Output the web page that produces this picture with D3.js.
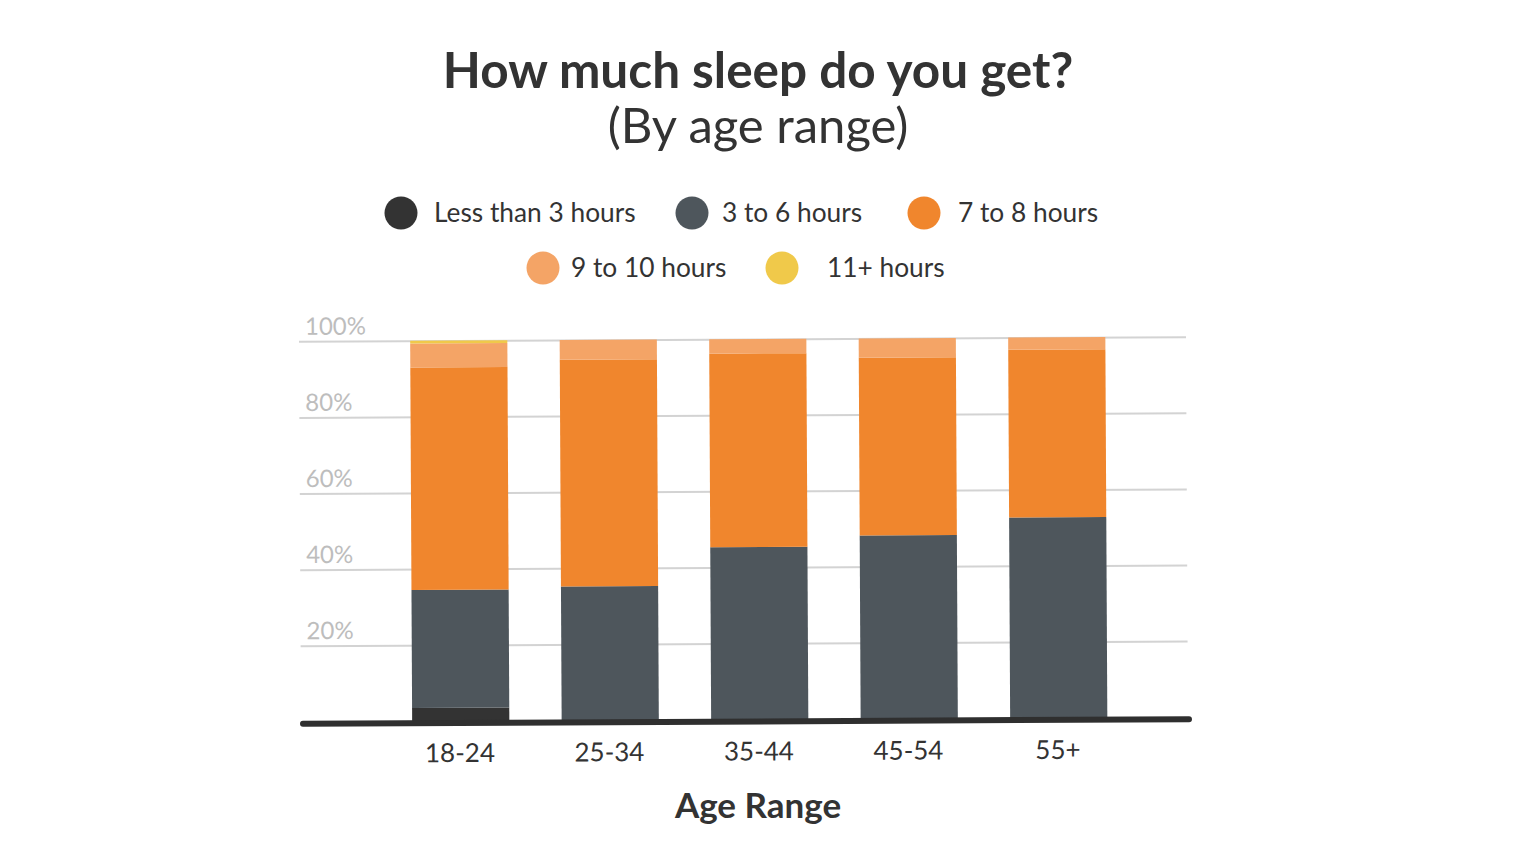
<!DOCTYPE html>
<html>
<head>
<meta charset="utf-8">
<script src="https://cdn.jsdelivr.net/npm/d3@7"></script>
<style>
  html, body { margin: 0; padding: 0; background: #fff; }
  svg { display: block; font-family: Lato, "Open Sans", sans-serif; }
</style>
</head>
<body>
<div id="chart"></div>
<script>
/* Age ranges along the x axis */
const ageRanges = ["18-24", "25-34", "35-44", "45-54", "55+"];

/* Sleep categories, bottom of the stack first */
const sleepCats = ["Less than 3 hours", "3 to 6 hours", "7 to 8 hours", "9 to 10 hours", "11+ hours"];
const catColors = ["#333333", "#4e565c", "#f0862d", "#f4a466", "#f0c94a"];

/* Share of respondents (%) per category, one value per age range */
const lessThan3 = [3.5, 0, 0, 0, 0];
const from3to6 = [31.0, 35.2, 45.3, 48.2, 52.7];
const from7to8 = [58.5, 59.6, 50.9, 46.7, 44.1];
const from9to10 = [6.3, 5.2, 3.8, 5.1, 3.2];
const elevenPlus = [0.7, 0, 0, 0, 0];

const yTicks = [20, 40, 60, 80, 100];

const width = 1536, height = 864;

const svg = d3.select("#chart").append("svg")
  .attr("width", width)
  .attr("height", height);

// ---- Title ----
addText(svg, 758, 88, "How much sleep do you get?", 49.5, 700, "#333");
addText(svg, 758, 143, "(By age range)", 49, 400, "#333");

// ---- Legend ----
const legendItems = [
  { i: 0, cx: 401, cy: 213, tx: 434 },
  { i: 1, cx: 692, cy: 213, tx: 722 },
  { i: 2, cx: 924, cy: 213, tx: 958 },
  { i: 3, cx: 543, cy: 268, tx: 571 },
  { i: 4, cx: 782, cy: 268, tx: 827 }
];
const legend = svg.append("g").attr("class", "legend");
legend.selectAll("circle")
  .data(legendItems)
  .enter()
  .append("circle")
  .attr("cx", d => d.cx)
  .attr("cy", d => d.cy)
  .attr("r", 16.5)
  .style("fill", d => catColors[d.i]);
legendItems.forEach(d => {
  addText(legend, d.tx, d.cy + 9, sleepCats[d.i], 26.3, 400, "#333", "start");
});

// ---- Plot (the picture is tilted very slightly) ----
const plot = svg.append("g")
  .attr("transform", "rotate(-0.3, 745, 530)");

const x = d3.scaleBand()
  .domain(ageRanges)
  .range([385, 1132.5])
  .paddingInner(0.35)
  .paddingOuter(0.175);

const y = d3.scaleLinear()
  .domain([0, 100])
  .range([719.5, 339]);

// Gridlines and percent labels
const yAxis = d3.axisRight(y)
  .tickValues(yTicks)
  .tickSize(887)
  .tickFormat(d => d + "%");

const gy = plot.append("g")
  .attr("transform", "translate(300,0)")
  .call(yAxis);
gy.select(".domain").remove();
gy.selectAll(".tick line")
  .attr("stroke", "#d3d3d3")
  .attr("stroke-width", 2);
gy.selectAll(".tick text")
  .attr("x", 6)
  .attr("y", -7)
  .attr("dy", null)
  .attr("text-anchor", "start")
  .style("font-family", "Lato")
  .style("font-size", "24px")
  .style("fill", "#bdbdbd");

// Stacked bars
const rows = ageRanges.map((a, i) => ({
  age: a,
  [sleepCats[0]]: lessThan3[i],
  [sleepCats[1]]: from3to6[i],
  [sleepCats[2]]: from7to8[i],
  [sleepCats[3]]: from9to10[i],
  [sleepCats[4]]: elevenPlus[i]
}));
const series = d3.stack().keys(sleepCats)(rows);

plot.append("g")
  .attr("class", "bars")
  .selectAll("g")
  .data(series)
  .enter()
  .append("g")
  .style("fill", (d, i) => catColors[i])
  .selectAll("rect")
  .data(d => d)
  .enter()
  .append("rect")
  .attr("x", d => x(d.data.age))
  .attr("width", x.bandwidth())
  .attr("y", d => y(d[1]))
  .attr("height", d => y(d[0]) - y(d[1]));

// Baseline
plot.append("line")
  .attr("x1", 302)
  .attr("x2", 1188)
  .attr("y1", y(0) + 2)
  .attr("y2", y(0) + 2)
  .attr("stroke", "#2f2f2f")
  .attr("stroke-width", 6)
  .attr("stroke-linecap", "round");

// Category labels
const xAxis = d3.axisBottom(x).tickSize(0);
const gx = plot.append("g")
  .attr("transform", "translate(-1," + y(0) + ")")
  .call(xAxis);
gx.select(".domain").remove();
gx.selectAll(".tick text")
  .attr("y", 41)
  .attr("dy", null)
  .style("font-family", "Lato")
  .style("font-size", "26px")
  .style("fill", "#333");

// Axis title
addText(svg, 758, 818, "Age Range", 35, 700, "#333");

/*
 * Put a text at (tx, ty).
 */
function addText(parent, tx, ty, str, size, weight, color, anchor) {
  return parent.append("text")
    .attr("x", tx)
    .attr("y", ty)
    .attr("text-anchor", anchor || "middle")
    .style("font-size", size + "px")
    .style("font-weight", weight)
    .style("fill", color)
    .text(str);
}
</script>
</body>
</html>
